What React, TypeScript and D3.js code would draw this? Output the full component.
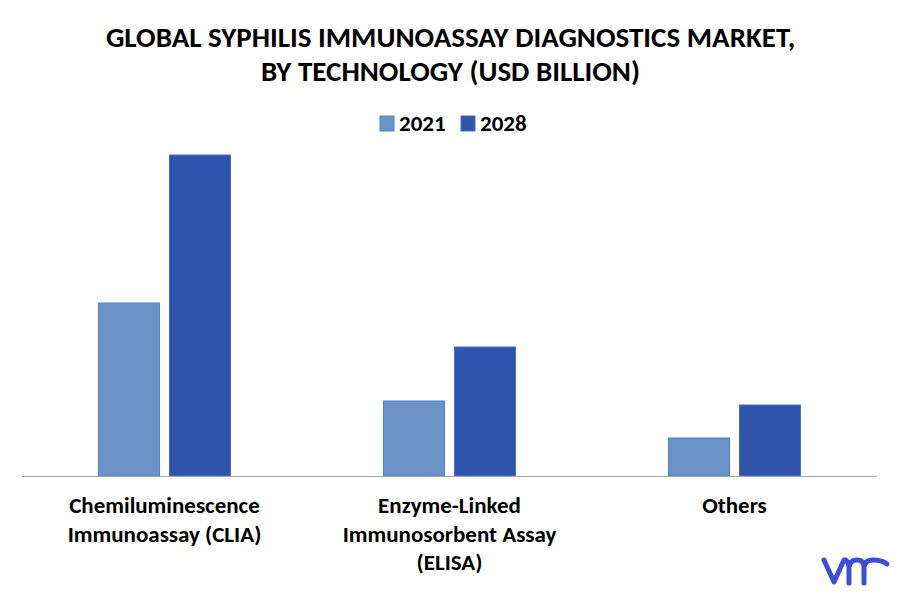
import React, { useEffect, useRef } from 'react';
import * as d3 from 'd3';

const categories = [
  ['Chemiluminescence', 'Immunoassay (CLIA)'],
  ['Enzyme-Linked', 'Immunosorbent Assay', '(ELISA)'],
  ['Others'],
];
const seriesNames = ['2021', '2028'];
const values2021 = [1.73, 0.75, 0.38];
const values2028 = [3.21, 1.29, 0.71];
const colors = ['#6a93c8', '#2e54ab'];
const strokes = ['#4f7fc6', '#4a6fc4'];

const width = 901;
const height = 599;
const FONT = "Carlito, Calibri, 'Liberation Sans Narrow', 'Open Sans', sans-serif";

export default function App() {
  const svgRef = useRef<SVGSVGElement>(null);

  useEffect(() => {
    if (!svgRef.current) return;
    const svg = d3.select(svgRef.current);
    svg.selectAll('*').remove();

    const left = 22;
    const right = 877;
    const baseline = 476;

    const x0 = d3.scaleBand<number>()
      .domain(d3.range(categories.length))
      .range([left, right])
      .paddingInner(0.537)
      .paddingOuter(0.537 / 2);

    const x1 = d3.scaleBand<string>()
      .domain(seriesNames)
      .range([0, x0.bandwidth()])
      .paddingInner(0.14);

    const y = d3.scaleLinear()
      .domain([0, d3.max(values2028) as number])
      .range([baseline, 155]);

    // Title
    const title = svg.append('text')
      .attr('text-anchor', 'middle')
      .attr('font-family', FONT)
      .attr('font-weight', 'bold')
      .attr('font-size', 29)
      .attr('fill', '#000');
    title.append('tspan').attr('x', width / 2).attr('y', 47)
      .text('GLOBAL SYPHILIS IMMUNOASSAY DIAGNOSTICS MARKET,');
    title.append('tspan').attr('x', width / 2).attr('y', 81)
      .text('BY TECHNOLOGY (USD BILLION)');

    // Legend
    const legendX = [380, 461];
    seriesNames.forEach((s, i) => {
      svg.append('rect')
        .attr('x', legendX[i])
        .attr('y', 116)
        .attr('width', 14)
        .attr('height', 15)
        .attr('fill', colors[i])
        .attr('stroke', strokes[i]);
      svg.append('text')
        .attr('x', legendX[i] + 19)
        .attr('y', 131)
        .attr('font-family', FONT)
        .attr('font-weight', 'bold')
        .attr('font-size', 23)
        .attr('fill', '#000')
        .text(s);
    });

    // Bars
    const rows = [values2021, values2028];
    const g = svg.append('g');
    categories.forEach((_, ci) => {
      seriesNames.forEach((s, si) => {
        const v = rows[si][ci];
        g.append('rect')
          .attr('x', (x0(ci) as number) + (x1(s) as number))
          .attr('y', y(v))
          .attr('width', x1.bandwidth())
          .attr('height', baseline - y(v))
          .attr('fill', colors[si])
          .attr('stroke', strokes[si])
          .attr('stroke-width', 1);
      });
    });

    // Axis line
    svg.append('line')
      .attr('x1', left)
      .attr('x2', right)
      .attr('y1', baseline + 0.5)
      .attr('y2', baseline + 0.5)
      .attr('stroke', '#a6a6a6')
      .attr('stroke-width', 1);

    // Category labels
    categories.forEach((lines, ci) => {
      const cx = (x0(ci) as number) + x0.bandwidth() / 2;
      const t = svg.append('text')
        .attr('text-anchor', 'middle')
        .attr('font-family', FONT)
        .attr('font-weight', 'bold')
        .attr('font-size', 23)
        .attr('fill', '#000');
      lines.forEach((ln, li) => {
        t.append('tspan').attr('x', cx).attr('y', 513 + li * 28.5).text(ln);
      });
    });

    // Logo
    svg.append('path')
      .attr('d', 'M824,560 L834,582 L844,560 Q847,559 849,566 L849,583 M849,567 Q850,560 857,560 Q864,560 864,567 L864,583 M864,567 Q865,560 873,560 Q882,560 887,564')
      .attr('fill', 'none')
      .attr('stroke', '#3b4fd4')
      .attr('stroke-width', 5)
      .attr('stroke-linecap', 'round')
      .attr('stroke-linejoin', 'round');
  }, []);

  return (
    <svg ref={svgRef} width={width} height={height} style={{ display: 'block', position: 'absolute', left: 0, top: 0 }} />
  );
}
